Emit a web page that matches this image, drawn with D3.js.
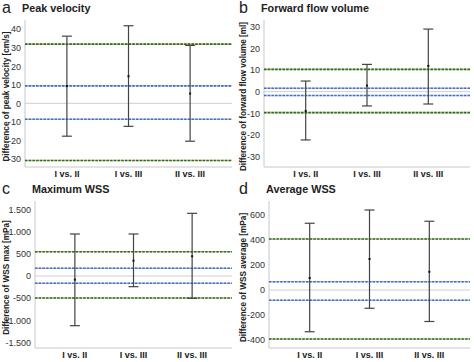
<!DOCTYPE html>
<html lang="en">
<head>
  <meta charset="utf-8" />
  <title>Agreement plots</title>
  <style>
    html, body { margin: 0; background: #fff; }
    svg { display: block; font-family: "Liberation Sans", Arial, sans-serif; }
  </style>
  <script src="https://cdn.jsdelivr.net/npm/d3@7"></script>
</head>
<body>
<script>
// comparisons shared by all four panels
const categories = ["I vs. II", "I vs. III", "II vs. III"];

// a - peak velocity [cm/s]
const peakMean  = [9.3, 14.6, 5.3];
const peakUpper = [36.2, 41.8, 31.2];
const peakLower = [-17.7, -12.4, -20.4];
const peakInner = [9.4, -8.6];
const peakOuter = [31.9, -30.8];
const peakTicks = [-30, -20, -10, 0, 10, 20, 30, 40];

// b - forward flow volume [ml]
const flowMean  = [-8.9, 2.8, 11.9];
const flowUpper = [4.9, 12.6, 28.9];
const flowLower = [-22.3, -6.6, -5.7];
const flowInner = [1.6, -1.8];
const flowOuter = [10.3, -9.7];
const flowTicks = [-30, -20, -10, 0, 10, 20, 30];

// c - maximum WSS [mPa]
const wssMaxMean  = [-84, 346, 446];
const wssMaxUpper = [950, 950, 1418];
const wssMaxLower = [-1125, -242, -505];
const wssMaxInner = [174, -165];
const wssMaxOuter = [550, -498];
const wssMaxTicks = [-1500, -1000, -500, 0, 500, 1000, 1500];

// d - average WSS [mPa]
const wssAvgMean  = [96, 248, 146];
const wssAvgUpper = [534, 640, 550];
const wssAvgLower = [-334, -146, -252];
const wssAvgInner = [66, -82];
const wssAvgOuter = [408, -392];
const wssAvgTicks = [-400, -200, 0, 200, 400, 600];

const W = 474, H = 362;
const svg = d3.select("body").append("svg").attr("width", W).attr("height", H);

// german style thousands separator, e.g. 1.500
const fmtDot = d => d3.format(",")(d).replace(/,/g, ".").replace("−", "-");
const fmtPlain = d => String(d);

const panels = [
  { letter: "a", title: "Peak velocity", ylab: "Difference of peak velocity [cm/s]",
    mean: peakMean, upper: peakUpper, lower: peakLower, inner: peakInner, outer: peakOuter,
    ticks: peakTicks, fmt: fmtPlain, domain: [-34.3, 44.9],
    ox: 0, oy: 0, left: 25, right: 232 },
  { letter: "b", title: "Forward flow volume", ylab: "Difference of forward flow volume [ml]",
    mean: flowMean, upper: flowUpper, lower: flowLower, inner: flowInner, outer: flowOuter,
    ticks: flowTicks, fmt: fmtPlain, domain: [-34.8, 33.1],
    ox: 237, oy: 0, left: 27, right: 233 },
  { letter: "c", title: "Maximum WSS", ylab: "Difference of WSS max [mPa]",
    mean: wssMaxMean, upper: wssMaxUpper, lower: wssMaxLower, inner: wssMaxInner, outer: wssMaxOuter,
    ticks: wssMaxTicks, fmt: fmtDot, domain: [-1630, 1697],
    ox: 0, oy: 181, left: 35, right: 232 },
  { letter: "d", title: "Average WSS", ylab: "Difference of WSS average [mPa]",
    mean: wssAvgMean, upper: wssAvgUpper, lower: wssAvgLower, inner: wssAvgInner, outer: wssAvgOuter,
    ticks: wssAvgTicks, fmt: fmtPlain, domain: [-464, 712],
    ox: 237, oy: 181, left: 32, right: 233 },
];

const TOP = 20, BOTTOM = 167;

panels.forEach(p => {
  const g = svg.append("g").attr("transform", `translate(${p.ox},${p.oy})`);

  const x = d3.scalePoint().domain(categories).range([p.left, p.right]).padding(0.68);
  const y = d3.scaleLinear().domain(p.domain).range([BOTTOM, TOP]);

  // panel letter + title
  g.append("text").attr("x", 2).attr("y", 13)
    .attr("font-size", 16).attr("fill", "#222").text(p.letter);
  g.append("text").attr("x", p.left - 3).attr("y", 12)
    .attr("font-size", 10.8).attr("font-weight", "bold").attr("fill", "#222").text(p.title);

  // frame: left and bottom axis lines, zero line
  g.append("line").attr("x1", p.left).attr("x2", p.left).attr("y1", TOP).attr("y2", BOTTOM)
    .attr("stroke", "#c8c8c8").attr("stroke-width", 1);
  g.append("line").attr("x1", p.left).attr("x2", p.right).attr("y1", BOTTOM).attr("y2", BOTTOM)
    .attr("stroke", "#c8c8c8").attr("stroke-width", 1);
  g.append("line").attr("x1", p.left).attr("x2", p.right).attr("y1", y(0)).attr("y2", y(0))
    .attr("stroke", "#cfcfcf").attr("stroke-width", 1);

  // y axis via d3.axisLeft, styled down to labels only
  const ax = g.append("g").attr("transform", `translate(${p.left},0)`)
    .call(d3.axisLeft(y).tickValues(p.ticks).tickFormat(p.fmt).tickSize(0).tickPadding(4));
  ax.select(".domain").remove();
  ax.selectAll("text").attr("font-size", 9).attr("fill", "#333")
    .attr("font-family", "Liberation Sans, Arial, sans-serif");

  // y label
  g.append("text")
    .attr("transform", `translate(9,${(TOP + BOTTOM) / 2 + 3}) rotate(-90)`)
    .attr("text-anchor", "middle").attr("font-size", 8.2).attr("font-weight", "bold")
    .attr("fill", "#222").text(p.ylab);

  // x category labels
  g.selectAll(".xl").data(categories).join("text")
    .attr("x", d => x(d)).attr("y", BOTTOM + 10)
    .attr("text-anchor", "middle").attr("font-size", 9).attr("font-weight", "bold")
    .attr("fill", "#222").text(d => d);

  // limit lines: light base with darker dashes on top
  const limit = (vals, light, dark) => {
    vals.forEach(v => {
      g.append("line").attr("x1", p.left).attr("x2", p.right).attr("y1", y(v)).attr("y2", y(v))
        .attr("stroke", light).attr("stroke-width", 1.6);
      g.append("line").attr("x1", p.left).attr("x2", p.right).attr("y1", y(v)).attr("y2", y(v))
        .attr("stroke", dark).attr("stroke-width", 1.6).attr("stroke-dasharray", "2.5,1.2");
    });
  };
  limit(p.outer, "#b8d9a0", "#3a6520");
  limit(p.inner, "#c4d4f0", "#4a6cc0");

  // error bars
  const bars = categories.map((c, i) => ({ c, m: p.mean[i], hi: p.upper[i], lo: p.lower[i] }));
  const eb = g.selectAll(".eb").data(bars).join("g");
  eb.append("line").attr("x1", d => x(d.c)).attr("x2", d => x(d.c))
    .attr("y1", d => y(d.hi)).attr("y2", d => y(d.lo))
    .attr("stroke", "#444").attr("stroke-width", 1.2);
  [d => d.hi, d => d.lo].forEach(f => {
    eb.append("line").attr("x1", d => x(d.c) - 5).attr("x2", d => x(d.c) + 5)
      .attr("y1", d => y(f(d))).attr("y2", d => y(f(d)))
      .attr("stroke", "#444").attr("stroke-width", 1.2);
  });
  eb.append("rect").attr("x", d => x(d.c) - 1).attr("y", d => y(d.m) - 1)
    .attr("width", 2).attr("height", 2).attr("fill", "#111");
});
</script>
</body>
</html>
